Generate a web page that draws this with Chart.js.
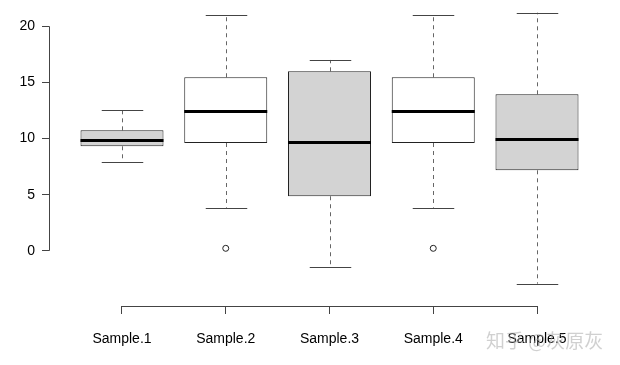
<!DOCTYPE html>
<html>
<head>
<meta charset="utf-8">
<script src="https://cdn.jsdelivr.net/npm/chart.js@4"></script>
<style>
  html, body { margin: 0; padding: 0; background: #fff; }
  #wrap { width: 620px; height: 365px; }
</style>
</head>
<body>
<div id="wrap"><canvas id="boxChart"></canvas></div>
<script>
const samples = ['Sample.1', 'Sample.2', 'Sample.3', 'Sample.4', 'Sample.5'];
const lowerWhisker = [7.91, 3.84, -1.47, 3.84, -2.93];
const q1 = [9.31, 9.60, 4.86, 9.60, 7.17];
const median = [9.87, 12.45, 9.69, 12.45, 9.99];
const q3 = [10.73, 15.46, 15.99, 15.46, 13.94];
const upperWhisker = [12.57, 20.98, 17.00, 20.98, 21.21];
const outliers = [{ x: 2, y: 0.22 }, { x: 4, y: 0.22 }];
const yTicks = [0, 5, 10, 15, 20];
const boxFill = ['#d3d3d3', '#ffffff', '#d3d3d3', '#ffffff', '#d3d3d3'];

// whiskers, caps, medians and the R-style axis segments
const boxParts = {
  id: 'boxParts',
  beforeDatasetsDraw(chart) {
    const { ctx, scales: { x, y } } = chart;
    ctx.save();
    ctx.lineWidth = 1;
    samples.forEach((s, i) => {
      const px = Math.round(x.getPixelForValue(i + 1)) + 0.5;
      const half = chart.getDatasetMeta(0).data[i].width / 4;
      ctx.strokeStyle = '#666';
      ctx.setLineDash([4, 4]);
      ctx.beginPath();
      ctx.moveTo(px, y.getPixelForValue(q3[i]));
      ctx.lineTo(px, y.getPixelForValue(upperWhisker[i]));
      ctx.moveTo(px, y.getPixelForValue(q1[i]));
      ctx.lineTo(px, y.getPixelForValue(lowerWhisker[i]));
      ctx.stroke();
      ctx.setLineDash([]);
      ctx.strokeStyle = '#444';
      ctx.beginPath();
      const yu = Math.round(y.getPixelForValue(upperWhisker[i])) + 0.5;
      const yl = Math.round(y.getPixelForValue(lowerWhisker[i])) + 0.5;
      ctx.moveTo(px - half, yu); ctx.lineTo(px + half, yu);
      ctx.moveTo(px - half, yl); ctx.lineTo(px + half, yl);
      ctx.stroke();
    });
    ctx.restore();
  },
  afterDatasetsDraw(chart) {
    const { ctx, scales: { x, y } } = chart;
    ctx.save();
    ctx.strokeStyle = '#000';
    ctx.lineWidth = 3;
    samples.forEach((s, i) => {
      const bar = chart.getDatasetMeta(0).data[i];
      const py = Math.round(y.getPixelForValue(median[i])) + 0.5;
      ctx.beginPath();
      ctx.moveTo(bar.x - bar.width / 2, py);
      ctx.lineTo(bar.x + bar.width / 2, py);
      ctx.stroke();
    });
    ctx.restore();
  },
  afterDraw(chart) {
    const { ctx, chartArea, scales: { x, y } } = chart;
    ctx.save();
    ctx.strokeStyle = '#444';
    ctx.lineWidth = 1;
    ctx.beginPath();
    const ax = Math.round(chartArea.left) + 0.5;
    ctx.moveTo(ax, y.getPixelForValue(yTicks[0]));
    ctx.lineTo(ax, y.getPixelForValue(yTicks[yTicks.length - 1]));
    const ay = Math.round(chartArea.bottom) + 0.5;
    ctx.moveTo(x.getPixelForValue(1), ay);
    ctx.lineTo(x.getPixelForValue(samples.length), ay);
    ctx.stroke();
    // watermark
    ctx.font = '19px "Noto Sans CJK SC"';
    ctx.fillStyle = 'rgba(170,170,170,0.55)';
    ctx.textBaseline = 'middle';
    ctx.fillText('知乎 @灰原灰', 486, 341);
    ctx.restore();
  }
};

const ctx = document.getElementById('boxChart').getContext('2d');
const boxChart = new Chart(ctx, {
  type: 'bar',
  data: {
    datasets: [{
      data: samples.map((s, i) => ({ x: i + 1, y: [q1[i], q3[i]] })),
      backgroundColor: boxFill,
      borderColor: '#222',
      borderWidth: 1,
      borderSkipped: false,
      categoryPercentage: 1,
      barPercentage: 0.8
    }, {
      type: 'scatter',
      data: outliers,
      pointStyle: 'circle',
      pointRadius: 3,
      pointBackgroundColor: '#fff',
      pointBorderColor: '#222',
      pointBorderWidth: 1
    }]
  },
  options: {
    responsive: true,
    maintainAspectRatio: false,
    animation: false,
    layout: { autoPadding: false, padding: { left: 20, right: 10, top: 10, bottom: 0 } },
    plugins: { legend: { display: false }, tooltip: { enabled: false } },
    scales: {
      x: {
        type: 'linear',
        offset: false,
        min: 0.2964,
        max: 5.7036,
        afterBuildTicks: s => { s.ticks = samples.map((c, i) => ({ value: i + 1 })); },
        afterFit: s => { s.height = 59; s.paddingLeft = 0; s.paddingRight = 0; },
        grid: { offset: false, drawOnChartArea: false, drawTicks: true, tickLength: 8, color: '#444' },
        border: { display: false },
        ticks: {
          color: '#000',
          font: { family: 'Liberation Sans', size: 14 },
          padding: 17,
          autoSkip: false,
          maxRotation: 0,
          callback: v => samples[v - 1]
        }
      },
      y: {
        min: -4.918,
        max: 21.45,
        afterBuildTicks: s => { s.ticks = yTicks.map(v => ({ value: v })); },
        afterFit: s => { s.width = 29; s.paddingTop = 0; s.paddingBottom = 0; },
        grid: { drawOnChartArea: false, drawTicks: true, tickLength: 7, color: '#444' },
        border: { display: false },
        ticks: {
          color: '#000',
          font: { family: 'Liberation Sans', size: 14 },
          padding: 7
        }
      }
    }
  },
  plugins: [boxParts]
});
</script>
</body>
</html>
